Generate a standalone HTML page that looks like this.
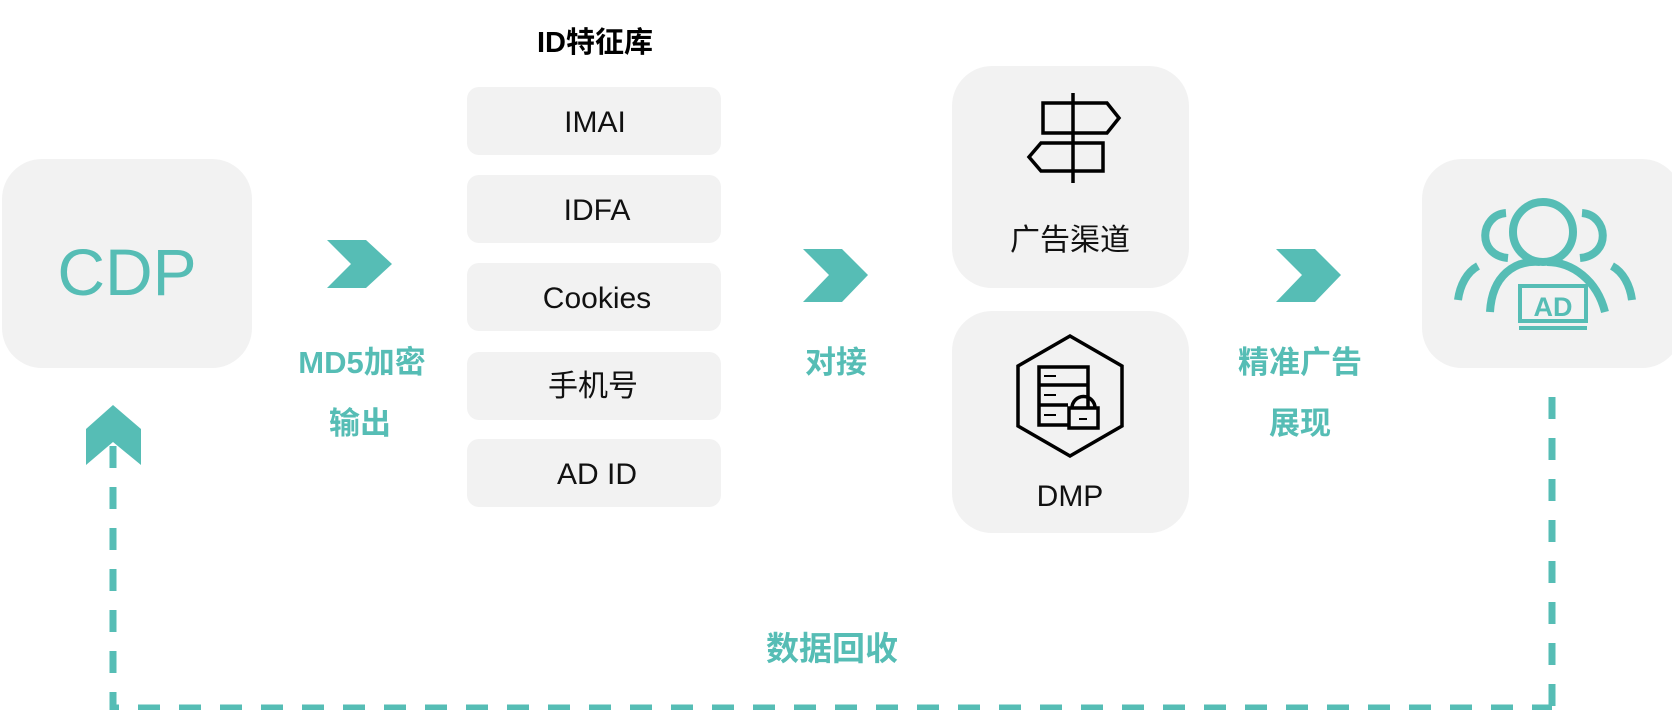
<!DOCTYPE html>
<html><head><meta charset="utf-8"><style>
html,body{margin:0;padding:0;background:#fff;}
svg{display:block}
text{font-family:"Liberation Sans","Noto Sans CJK SC",sans-serif;}
</style></head><body>
<svg width="1672" height="710" viewBox="0 0 1672 710" xmlns="http://www.w3.org/2000/svg">
<g fill="#f2f2f2">
<rect x="2" y="159" width="250" height="209" rx="40"/>
<rect x="467" y="87" width="254" height="68" rx="12"/>
<rect x="467" y="175" width="254" height="68" rx="12"/>
<rect x="467" y="263" width="254" height="68" rx="12"/>
<rect x="467" y="352" width="254" height="68" rx="12"/>
<rect x="467" y="439" width="254" height="68" rx="12"/>
<rect x="952" y="66" width="237" height="222" rx="40"/>
<rect x="952" y="311" width="237" height="222" rx="40"/>
<rect x="1422" y="159" width="260" height="209" rx="40"/>
</g>
<text x="127" y="295" font-size="66" fill="#56bdb5" text-anchor="middle">CDP</text>
<text x="595" y="52" font-size="29" font-weight="bold" text-anchor="middle" fill="#000">ID特征库</text>
<g font-size="30" fill="#111" text-anchor="middle">
<text x="595" y="132">IMAI</text>
<text x="597" y="220">IDFA</text>
<text x="597" y="308">Cookies</text>
<text x="593" y="396">手机号</text>
<text x="597" y="484">AD ID</text>
<text x="1070" y="250">广告渠道</text>
<text x="1070" y="506">DMP</text>
</g>
<g fill="#56bdb5">
<polygon points="327,240 366,240 392,264 366,288 327,288 351,264"/>
<polygon points="803,249 842,249 868,275 842,302 803,302 829,275"/>
<polygon points="1276,249 1315,249 1341,275 1315,302 1276,302 1302,275"/>
<polygon points="113,405 141,429 141,465 113,442 86,465 86,429"/>
</g>
<g font-size="31" fill="#56bdb5" text-anchor="middle" font-weight="bold">
<text x="362" y="373">MD5加密</text>
<text x="360" y="434">输出</text>
<text x="836" y="373">对接</text>
<text x="1300" y="373">精准广告</text>
<text x="1300" y="434">展现</text>
<text x="832" y="660" font-size="33">数据回收</text>
</g>
<g stroke="#56bdb5" stroke-width="7" fill="none" stroke-dasharray="22 19">
<path d="M113 446 V708 H1552"/>
<path d="M1552 397 V708"/>
</g>
<g stroke="#000" stroke-width="3.5" fill="none">
<line x1="1073" y1="93" x2="1073" y2="183"/>
<polygon points="1043,103 1107,103 1119,118 1107,133 1043,133"/>
<polygon points="1103,143 1041,143 1029,157 1041,171 1103,171"/>
<polygon points="1070,336 1122,366 1122,426 1070,456 1018,426 1018,366"/>
<rect x="1039" y="367" width="49" height="58"/>
<line x1="1039" y1="385" x2="1088" y2="385"/>
<line x1="1039" y1="405" x2="1068" y2="405"/>
<rect x="1069" y="408" width="29" height="20" fill="#f2f2f2"/>
<path d="M1072 408 a11 11 0 0 1 23 0"/>
</g>
<g stroke="#000" stroke-width="2">
<line x1="1044" y1="376" x2="1056" y2="376"/>
<line x1="1044" y1="395" x2="1056" y2="395"/>
<line x1="1044" y1="415" x2="1056" y2="415"/>
<line x1="1079" y1="419" x2="1087" y2="419"/>
</g>
<g stroke="#56bdb5" stroke-width="8" fill="none">
<circle cx="1543" cy="232" r="30"/>
<path d="M1490 312 C1492 275 1515 260 1540 262"/>
<path d="M1547 262 C1572 262 1597 280 1605 312"/>
<path d="M1506 213 C1480 215 1476 255 1508 258"/>
<path d="M1582 213 C1608 215 1612 255 1580 258"/>
<path d="M1458 300 C1460 285 1467 272 1478 266"/>
<path d="M1632 300 C1630 285 1623 272 1612 266"/>
</g>
<rect x="1520" y="286" width="66" height="35" fill="#f2f2f2" stroke="#56bdb5" stroke-width="4"/>
<line x1="1519" y1="328" x2="1587" y2="328" stroke="#56bdb5" stroke-width="4"/>
<text x="1553" y="316" font-size="27" font-weight="bold" fill="#56bdb5" text-anchor="middle">AD</text>
</svg>
</body></html>
